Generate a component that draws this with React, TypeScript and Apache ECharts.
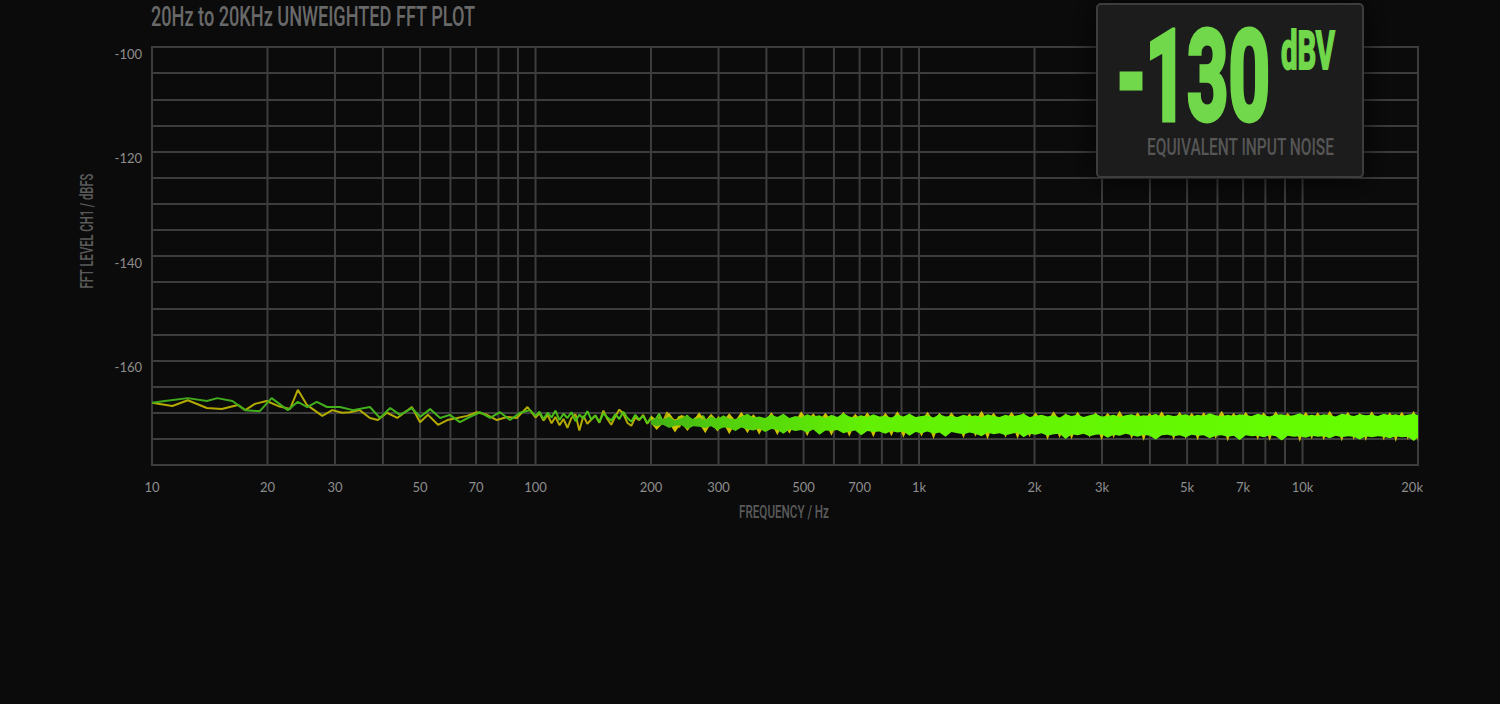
import React, { useEffect, useRef } from 'react';
import * as echarts from 'echarts';

// ---------- texts ----------
const TITLE = '20Hz to 20KHz UNWEIGHTED FFT PLOT';
const BADGE_VALUE = '-130';
const BADGE_UNIT = 'dBV';
const BADGE_CAPTION = 'EQUIVALENT INPUT NOISE';
const X_NAME = 'FREQUENCY / Hz';
const Y_NAME = 'FFT LEVEL CH1 / dBFS';

// ---------- axes ----------
const X_MIN = 10;
const X_MAX = 20000;
const Y_MIN = -180;
const Y_MAX = -100;
const Y_STEP = 5;
const yTickLabels = [-100, -120, -140, -160];
const xTickValues = [10, 20, 30, 50, 70, 100, 200, 300, 500, 700, 1000, 2000, 3000, 5000, 7000, 10000, 20000];
const xTickLabels = ['10', '20', '30', '50', '70', '100', '200', '300', '500', '700', '1k', '2k', '3k', '5k', '7k', '10k', '20k'];
const gridFreqs = [
  10, 20, 30, 40, 50, 60, 70, 80, 90,
  100, 200, 300, 400, 500, 600, 700, 800, 900,
  1000, 2000, 3000, 4000, 5000, 6000, 7000, 8000, 9000,
  10000, 20000,
];

// ---------- low-frequency traces (Hz / dBFS) ----------
const greenLowFreq = [10, 10.8, 12.4, 13.9, 14.8, 16.2, 17.5, 19.1, 20.5, 22.6, 24.0, 25.4, 26.9, 28.6, 30.9, 33.4, 37.0, 39.3, 41.8, 44.3, 47.6, 50.0, 53.1, 56.4, 59.8, 63.5, 67.5, 71.6, 76.1, 80.8, 85.8, 91.1, 96.8];
const greenLowDb = [-168.1, -167.75, -167.2, -167.75, -167.2, -167.75, -169.5, -169.7, -167.2, -169.5, -167.9, -168.9, -167.9, -168.9, -168.9, -169.5, -168.9, -171.0, -169.1, -170.4, -169.1, -170.8, -169.3, -171.0, -170.4, -171.8, -170.8, -169.9, -171.0, -169.9, -171.4, -170.0, -169.5];

const yellowLowFreq = [10, 11.3, 12.4, 13.9, 15.2, 16.75, 17.5, 18.55, 19.9, 21.3, 22.9, 24.0, 25.35, 27.8, 29.5, 31.3, 32.8, 34.8, 37.0, 38.8, 41.0, 43.6, 47.6, 50.0, 52.4, 55.7, 58.9, 62.5, 66.3, 70.3, 74.7, 79.3, 84.2, 89.3, 95.3];
const yellowLowDb = [-168.1, -168.7, -167.6, -169.1, -169.3, -168.5, -169.5, -168.3, -167.75, -168.7, -169.3, -165.6, -168.5, -170.6, -169.5, -170.0, -169.9, -169.5, -171.0, -171.4, -170.0, -171.0, -168.9, -171.8, -170.4, -172.3, -171.4, -171.0, -170.6, -169.9, -170.4, -171.4, -170.8, -171.0, -168.9];

// ---------- mid-frequency traces ----------
const midFreq = [100, 102.4, 104.9, 107.5, 110.1, 112.7, 115.5, 118.3, 121.1, 124.1, 127.1, 130.1, 133.3, 136.5, 139.8, 143.2, 146.7, 150.3, 153.9, 157.6, 161.5, 165.4, 169.4, 173.5, 177.7, 182.0, 186.4, 190.9, 195.6, 200.3, 205.2, 210.1, 215.2, 220.4, 225.8, 231.3, 236.9, 242.6, 248.5, 254.5, 260.7, 267.0, 273.5, 280.1, 286.9, 293.9, 301.0];
const greenMidDb = [-170.6, -169.8, -171.2, -170.0, -170.9, -169.6, -171.4, -170.2, -171.0, -169.9, -171.6, -170.4, -171.1, -169.7, -171.3, -170.5, -171.8, -170.1, -170.9, -171.5, -170.3, -171.2, -169.8, -171.0, -171.7, -170.4, -171.3, -170.6, -172.0, -170.8, -171.4, -170.2, -171.9, -170.9, -171.3, -172.1, -170.7, -171.6, -170.5, -172.2, -171.0, -171.8, -170.6, -172.0, -171.2, -171.7, -170.9];
const yellowMidDb = [-170.9, -170.1, -171.5, -170.4, -172.0, -170.8, -172.4, -171.2, -172.9, -171.0, -170.3, -173.4, -170.6, -172.1, -171.3, -170.5, -171.9, -169.6, -171.2, -172.3, -170.7, -169.4, -170.2, -171.9, -172.5, -170.9, -171.4, -170.4, -172.1, -171.0, -172.6, -170.8, -171.7, -169.9, -172.2, -171.3, -172.8, -170.6, -171.9, -171.2, -172.4, -170.5, -171.8, -172.7, -171.1, -172.0, -170.7];

// ---------- dense noise band envelopes (200 Hz – 20 kHz) ----------
const bandFreq = [
  200, 207, 215, 223, 231, 240, 249, 258, 267, 277,
  287, 298, 309, 320, 332, 344, 357, 370, 383, 397,
  412, 427, 443, 459, 476, 493, 511, 530, 550, 570,
  591, 612, 635, 658, 682, 707, 733, 760, 788, 817,
  847, 878, 911, 944, 979, 1015, 1052, 1091, 1131, 1172,
  1215, 1260, 1306, 1354, 1404, 1455, 1509, 1564, 1622, 1681,
  1743, 1807, 1873, 1942, 2013, 2087, 2164, 2243, 2326, 2411,
  2499, 2591, 2686, 2785, 2887, 2993, 3103, 3217, 3335, 3457,
  3584, 3716, 3852, 3994, 4140, 4292, 4450, 4613, 4782, 4958,
  5140, 5328, 5524, 5727, 5937, 6154, 6380, 6615, 6857, 7109,
  7370, 7640, 7921, 8211, 8513, 8825, 9149, 9485, 9833, 10194,
  10568, 10956, 11358, 11775, 12207, 12655, 13119, 13601, 14100, 14617,
  15154, 15710, 16286, 16884, 17504, 18146, 18812, 19503, 20000,
];
const greenTopDb = [
  -171.4, -170.9, -171.3, -170.7, -171.5, -171.0, -170.5, -171.3, -170.9, -171.4,
  -170.7, -171.2, -170.5, -171.1, -171.2, -170.7, -170.2, -170.9, -170.7, -171.0,
  -170.4, -170.8, -170.2, -171.0, -170.6, -170.9, -170.3, -170.7, -170.5, -171.0,
  -170.4, -170.8, -170.1, -170.7, -170.9, -170.5, -170.8, -170.3, -170.7, -170.6,
  -170.9, -170.4, -170.7, -170.2, -170.8, -170.6, -170.5, -170.9, -170.3, -170.7,
  -170.6, -170.8, -170.4, -170.7, -170.5, -170.9, -170.3, -170.6, -170.8, -170.4,
  -170.7, -170.5, -170.2, -170.8, -170.6, -170.4, -170.7, -170.5, -170.9, -170.3,
  -170.6, -170.4, -170.8, -170.5, -170.2, -170.7, -170.6, -170.4, -170.8, -170.5,
  -170.3, -170.7, -170.5, -170.6, -170.2, -170.8, -170.4, -170.6, -170.5, -170.3,
  -170.7, -170.4, -170.6, -170.1, -170.5, -170.7, -170.4, -170.6, -170.3, -170.5,
  -170.6, -170.2, -170.5, -170.7, -170.4, -170.3, -170.6, -170.5, -170.1, -170.6,
  -170.4, -170.6, -170.3, -170.5, -170.7, -170.2, -170.4, -170.6, -170.3, -170.5,
  -170.4, -170.6, -170.2, -170.5, -170.3, -170.6, -170.4, -170.2, -170.5,
];
const greenBottomDb = [
  -172.2, -172.6, -172.3, -172.9, -172.5, -172.4, -173.1, -172.6, -172.7, -172.9,
  -172.6, -173.3, -172.8, -172.9, -173.5, -172.8, -173.2, -173.4, -173.0, -173.7,
  -173.1, -173.3, -174.0, -173.2, -173.5, -173.3, -173.8, -173.2, -174.2, -173.4,
  -173.5, -173.3, -173.9, -173.6, -173.4, -174.3, -173.5, -173.7, -173.6, -174.0,
  -173.5, -173.8, -173.6, -174.4, -173.7, -173.9, -173.6, -174.0, -173.8, -174.6,
  -173.7, -173.9, -174.1, -173.8, -174.0, -174.5, -173.8, -174.1, -173.9, -174.3,
  -174.0, -173.8, -174.7, -174.0, -174.2, -173.9, -174.4, -174.1, -174.0, -175.0,
  -174.1, -174.3, -174.0, -174.5, -174.2, -174.1, -174.8, -174.2, -174.4, -174.0,
  -174.3, -174.6, -174.2, -174.4, -175.1, -174.3, -174.2, -174.5, -174.3, -174.7,
  -174.2, -174.4, -174.3, -174.9, -174.4, -174.3, -174.6, -174.4, -175.2, -174.3,
  -174.5, -174.4, -174.7, -174.3, -174.5, -175.3, -174.4, -174.6, -174.5, -174.8,
  -174.4, -174.6, -174.5, -174.9, -174.4, -174.7, -174.5, -174.6, -175.1, -174.5,
  -174.7, -174.5, -174.6, -174.9, -174.5, -174.7, -174.6, -175.4, -174.7,
];
const yellowTopDb = [
  -170.5, -171.5, -171.5, -170.0, -171.5, -170.4, -171.5, -171.5, -169.9, -171.5,
  -170.2, -171.5, -171.5, -170.1, -171.5, -169.8, -171.5, -170.3, -171.5, -171.5,
  -169.9, -171.5, -170.2, -171.5, -171.5, -169.7, -171.5, -170.1, -171.5, -170.0,
  -171.5, -171.5, -169.8, -171.5, -170.2, -171.5, -169.9, -171.5, -171.5, -170.0,
  -171.5, -169.7, -171.5, -170.1, -171.5, -171.5, -169.8, -171.5, -170.0, -171.5,
  -169.9, -171.5, -171.5, -170.1, -171.5, -169.6, -171.5, -170.0, -171.5, -171.5,
  -169.8, -171.5, -170.0, -171.5, -169.9, -171.5, -171.5, -169.7, -171.5, -170.1,
  -171.5, -169.8, -171.5, -171.5, -169.9, -171.5, -170.0, -171.5, -169.6, -171.5,
  -171.5, -169.9, -171.5, -170.0, -171.5, -169.7, -171.5, -171.5, -169.8, -171.5,
  -170.0, -171.5, -169.9, -171.5, -171.5, -169.6, -171.5, -170.0, -171.5, -169.8,
  -171.5, -171.5, -169.9, -171.5, -169.7, -171.5, -170.0, -171.5, -171.5, -169.8,
  -171.5, -169.9, -171.5, -169.6, -171.5, -171.5, -169.8, -171.5, -170.0, -171.5,
  -169.7, -171.5, -171.5, -169.9, -171.5, -169.8, -171.5, -169.6, -171.5,
];
const yellowBottomDb = [
  -172.0, -173.3, -172.0, -172.0, -173.8, -172.0, -173.5, -172.0, -172.0, -173.9,
  -172.0, -173.6, -172.0, -174.1, -172.0, -172.0, -173.9, -172.0, -174.2, -172.0,
  -172.0, -174.3, -172.0, -174.0, -172.0, -172.0, -174.5, -172.0, -174.1, -172.0,
  -174.4, -172.0, -172.0, -174.6, -172.0, -174.2, -172.0, -174.7, -172.0, -172.0,
  -174.5, -172.0, -174.8, -172.0, -172.0, -174.6, -172.0, -175.0, -172.0, -174.5,
  -172.0, -172.0, -174.9, -172.0, -174.6, -172.0, -175.1, -172.0, -172.0, -174.8,
  -172.0, -175.0, -172.0, -174.7, -172.0, -172.0, -175.2, -172.0, -174.9, -172.0,
  -175.1, -172.0, -172.0, -174.8, -172.0, -175.3, -172.0, -174.9, -172.0, -172.0,
  -175.0, -172.0, -175.4, -172.0, -174.9, -172.0, -172.0, -175.2, -172.0, -175.0,
  -172.0, -175.3, -172.0, -172.0, -175.0, -172.0, -175.5, -172.0, -175.1, -172.0,
  -172.0, -175.2, -172.0, -175.4, -172.0, -175.0, -172.0, -172.0, -175.6, -172.0,
  -175.1, -172.0, -175.3, -172.0, -172.0, -175.5, -172.0, -175.2, -172.0, -175.4,
  -172.0, -172.0, -175.3, -172.0, -175.6, -172.0, -175.2, -172.0, -175.5,
];

// ---------- helpers ----------
const pairs = (xs: number[], ys: number[]) => {
  const n = Math.min(xs.length, ys.length);
  const out: number[][] = [];
  for (let i = 0; i < n; i++) out.push([xs[i], ys[i]]);
  return out;
};

let measureCtx: CanvasRenderingContext2D | null = null;
const measure = (text: string, font: string) => {
  if (!measureCtx) measureCtx = document.createElement('canvas').getContext('2d');
  if (!measureCtx) return 100;
  measureCtx.font = font;
  return measureCtx.measureText(text).width;
};

const fitText = (
  text: string,
  font: string,
  width: number,
  x: number,
  y: number,
  fill: string,
  align: string,
  extra: any = {},
  styleExtra: any = {}
) => {
  const s = width / measure(text, font);
  return {
    type: 'text',
    x,
    y,
    scaleX: s,
    ...extra,
    style: {
      text,
      font,
      fill,
      align,
      textAlign: align,
      verticalAlign: 'middle',
      textVerticalAlign: 'middle',
      ...styleExtra,
    },
  };
};

const bandRender = (top: number[], bottom: number[], fill: any) => (params: any, api: any) => {
  const n = Math.min(bandFreq.length, top.length, bottom.length);
  const pts: number[][] = [];
  for (let i = 0; i < n; i++) pts.push(api.coord([bandFreq[i], top[i]]));
  for (let i = n - 1; i >= 0; i--) pts.push(api.coord([bandFreq[i], bottom[i]]));
  return { type: 'polygon', shape: { points: pts }, style: { fill } };
};

export default function App() {
  const ref = useRef<HTMLDivElement>(null);

  useEffect(() => {
    if (!ref.current) return;
    const chart = echarts.init(ref.current, undefined, { renderer: 'svg' });

    const gridColor = '#3d3d3d';
    const labelFont = '13px Lato';
    const labelColor = '#8d8d8d';
    const nameColor = '#5a5a5a';
    const badgeGreen = '#70d84a';

    const greenBandFill = new echarts.graphic.LinearGradient(0, 0, 1, 0, [
      { offset: 0, color: '#42b016' },
      { offset: 0.1, color: '#52d00c' },
      { offset: 0.28, color: '#62f004' },
      { offset: 1, color: '#66ff00' },
    ]);
    const greenLine = new echarts.graphic.LinearGradient(0, 0, 1, 0, [
      { offset: 0, color: '#3ea81c' },
      { offset: 0.65, color: '#46b81a' },
      { offset: 1, color: '#56d40e' },
    ]);

    const option: any = {
      animation: false,
      backgroundColor: '#0b0b0b',
      grid: {
        left: 152,
        right: 82,
        top: 47,
        bottom: 239,
        show: true,
        borderColor: gridColor,
        borderWidth: 2,
        backgroundColor: 'transparent',
      },
      xAxis: {
        type: 'log',
        logBase: 10,
        min: X_MIN,
        max: X_MAX,
        axisLine: { show: false },
        axisTick: { show: false },
        axisLabel: { show: false },
        splitLine: { show: false },
      },
      yAxis: {
        type: 'value',
        min: Y_MIN,
        max: Y_MAX,
        interval: Y_STEP,
        axisLine: { show: false },
        axisTick: { show: false },
        axisLabel: {
          color: labelColor,
          fontFamily: 'Lato',
          fontSize: 13,
          margin: 10,
          verticalAlign: 'top',
          formatter: (v: number) => (yTickLabels.indexOf(v) >= 0 ? String(v) : ''),
        },
        splitLine: { show: true, lineStyle: { color: gridColor, width: 2 } },
      },
      series: [
        {
          type: 'custom',
          silent: true,
          z: 1,
          data: gridFreqs.map((f) => [f, Y_MIN]),
          renderItem: (params: any, api: any) => {
            const f = api.value(0);
            const a = api.coord([f, Y_MAX]);
            const b = api.coord([f, Y_MIN]);
            return {
              type: 'line',
              shape: { x1: a[0], y1: a[1], x2: b[0], y2: b[1] },
              style: { stroke: gridColor, lineWidth: 2 },
            };
          },
        },
        {
          type: 'custom',
          silent: true,
          z: 1,
          data: xTickValues.map((f) => [f, Y_MIN]),
          renderItem: (params: any, api: any) => {
            const f = api.value(0);
            const p = api.coord([f, Y_MIN]);
            const last = params.dataIndex === xTickValues.length - 1;
            return {
              type: 'text',
              x: last ? p[0] + 5 : p[0],
              y: p[1] + 22,
              style: {
                text: xTickLabels[params.dataIndex],
                font: labelFont,
                fill: labelColor,
                align: last ? 'right' : 'center',
                textAlign: last ? 'right' : 'center',
                verticalAlign: 'middle',
                textVerticalAlign: 'middle',
              },
            };
          },
        },
        {
          type: 'line',
          name: 'CH1 yellow',
          z: 3,
          showSymbol: false,
          data: pairs(yellowLowFreq, yellowLowDb).concat(pairs(midFreq, yellowMidDb)),
          lineStyle: { color: '#b3aa00', width: 2 },
        },
        {
          type: 'line',
          name: 'CH1 green',
          z: 4,
          showSymbol: false,
          data: pairs(greenLowFreq, greenLowDb).concat(pairs(midFreq, greenMidDb)),
          lineStyle: { color: greenLine, width: 2 },
        },
        {
          type: 'custom',
          silent: true,
          z: 5,
          data: [[bandFreq[0], -172]],
          renderItem: bandRender(yellowTopDb, yellowBottomDb, '#cdc200'),
        },
        {
          type: 'custom',
          silent: true,
          z: 6,
          data: [[bandFreq[0], -172]],
          renderItem: bandRender(greenTopDb, greenBottomDb, greenBandFill),
        },
      ],
      graphic: [
        fitText(TITLE, '500 28px Roboto', 325, 151, 17, '#696969', 'left'),
        fitText(Y_NAME, '500 18px Roboto', 115, 87, 231, nameColor, 'center', { rotation: Math.PI / 2 }),
        fitText(X_NAME, '500 18px Roboto', 90, 784, 512, nameColor, 'center'),
        {
          type: 'rect',
          shape: { x: 1097, y: 4, width: 266, height: 173, r: 4 },
          style: {
            fill: '#1b1b1b',
            stroke: '#3c3c3c',
            lineWidth: 2,
            shadowBlur: 30,
            shadowColor: 'rgba(0,0,0,0.85)',
          },
          z: 10,
        },
        {
          ...fitText(BADGE_VALUE, 'bold 127px Roboto', 153, 1117, 76, badgeGreen, 'left', {}, {
            stroke: badgeGreen,
            lineWidth: 5,
          }),
          z: 11,
        },
        {
          ...fitText(BADGE_UNIT, 'bold 53px Roboto', 54, 1281, 50, badgeGreen, 'left', {}, {
            stroke: badgeGreen,
            lineWidth: 2,
          }),
          z: 11,
        },
        { ...fitText(BADGE_CAPTION, '500 24px Roboto', 188, 1147, 147, '#565656', 'left'), z: 11 },
      ],
    };

    chart.setOption(option);
    return () => chart.dispose();
  }, []);

  return (
    <div
      ref={ref}
      style={{ position: 'fixed', left: 0, top: 0, width: 1500, height: 704 }}
    />
  );
}
